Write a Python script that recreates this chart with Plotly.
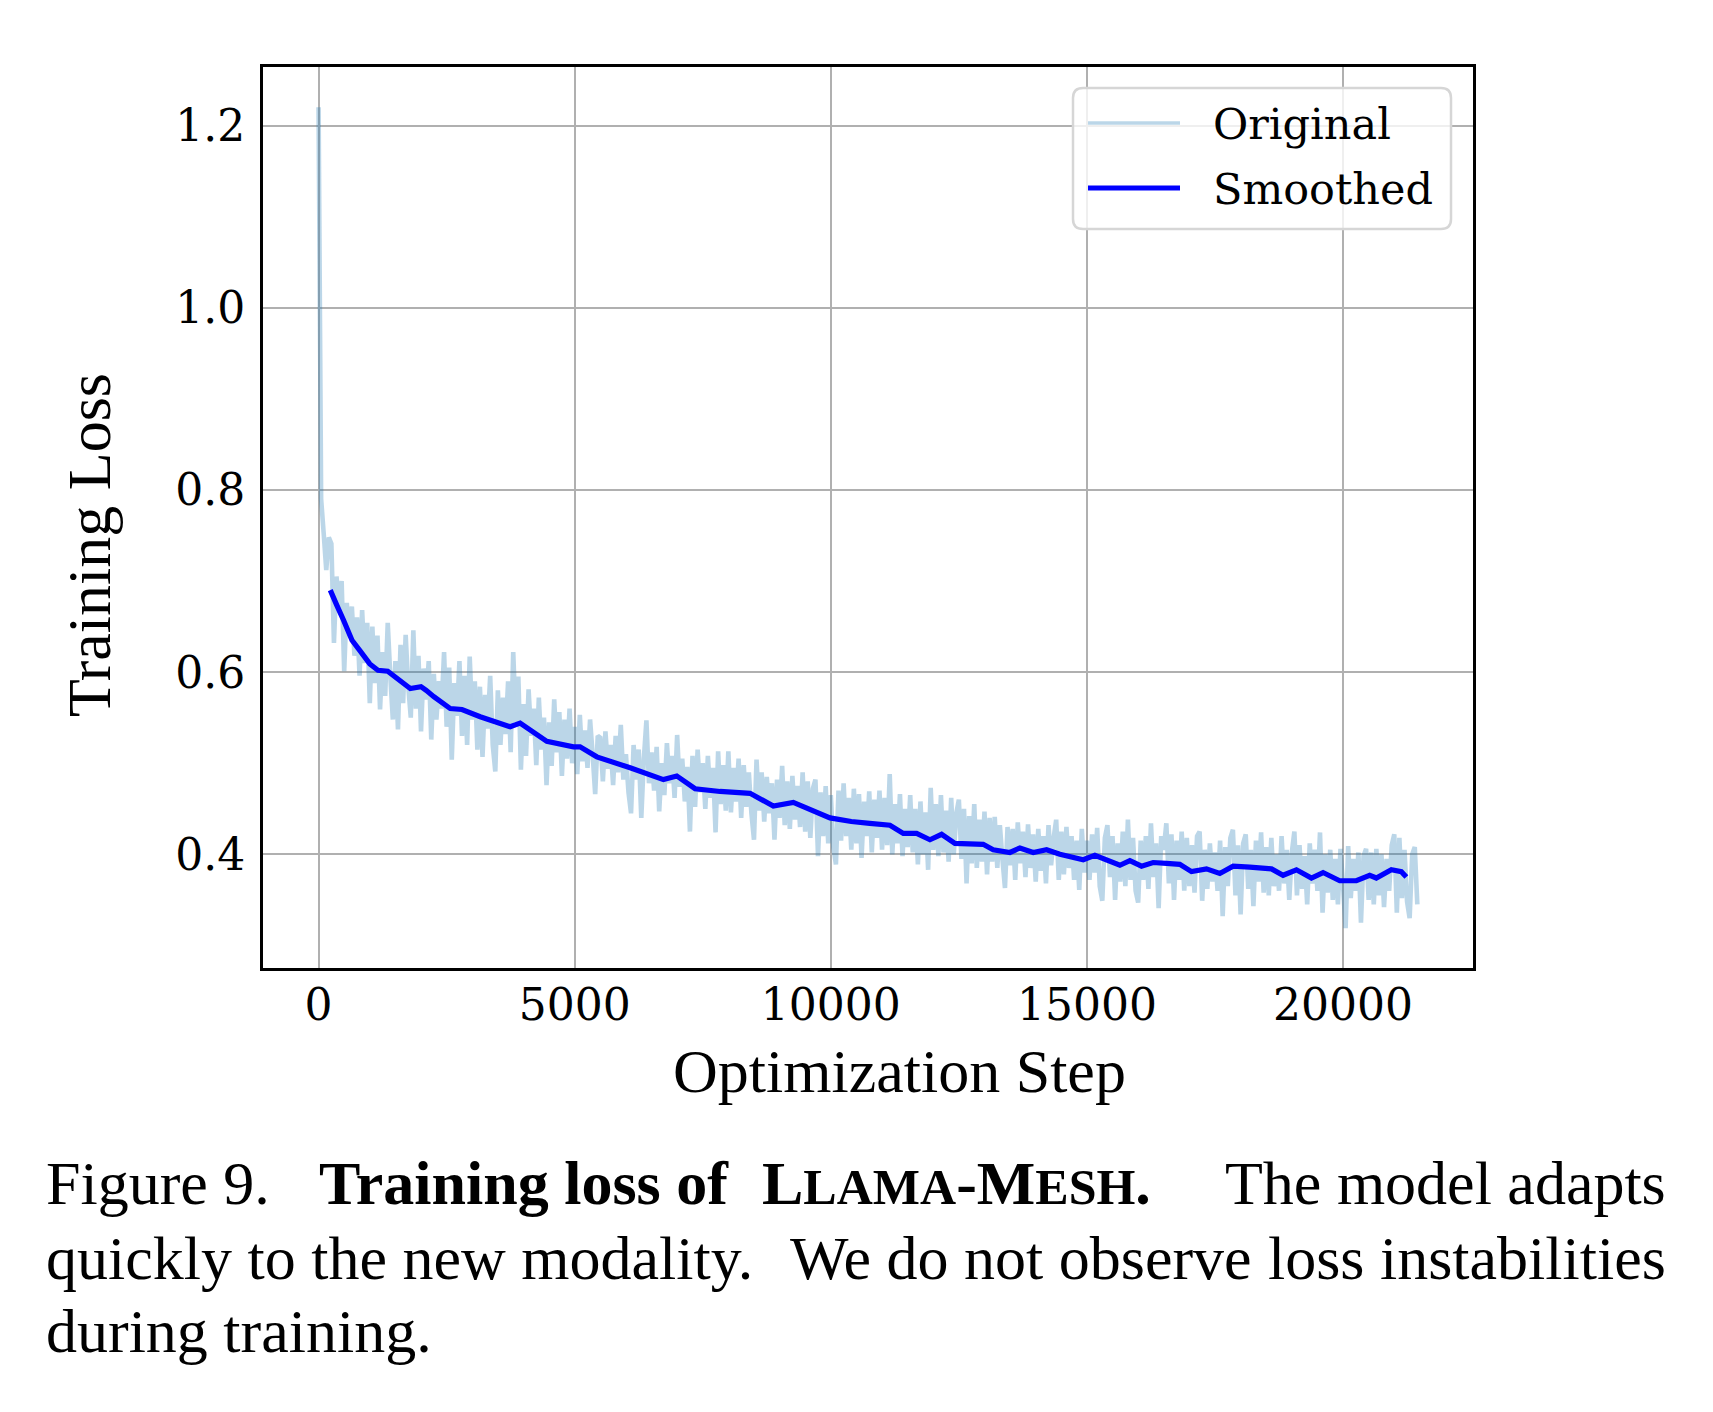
import plotly.graph_objects as go

# perda original registrada a cada 50 passos (0 ... 21450)
orig_steps = list(range(0, 21451, 50))
orig_loss = [
    1.220, 0.790, 0.752, 0.712, 0.748, 0.741, 0.632, 0.705, 0.668, 0.700,
    0.601, 0.676, 0.640, 0.672, 0.618, 0.660, 0.596, 0.668, 0.610, 0.654,
    0.566, 0.650, 0.588, 0.640, 0.559, 0.622, 0.574, 0.654, 0.596, 0.548,
    0.612, 0.537, 0.630, 0.566, 0.641, 0.585, 0.550, 0.646, 0.560, 0.618,
    0.535, 0.604, 0.570, 0.612, 0.526, 0.598, 0.548, 0.590, 0.560, 0.622,
    0.540, 0.605, 0.504, 0.588, 0.552, 0.612, 0.530, 0.596, 0.520, 0.617,
    0.548, 0.590, 0.515, 0.584, 0.507, 0.575, 0.538, 0.596, 0.520, 0.491,
    0.580, 0.520, 0.572, 0.532, 0.590, 0.512, 0.622, 0.545, 0.595, 0.493,
    0.565, 0.508, 0.581, 0.530, 0.560, 0.498, 0.572, 0.515, 0.550, 0.476,
    0.545, 0.497, 0.570, 0.512, 0.556, 0.486, 0.548, 0.505, 0.560, 0.500,
    0.540, 0.488, 0.553, 0.502, 0.536, 0.495, 0.548, 0.510, 0.466, 0.530,
    0.528, 0.480, 0.535, 0.494, 0.520, 0.476, 0.530, 0.490, 0.542, 0.482,
    0.510, 0.468, 0.445, 0.520, 0.482, 0.515, 0.440, 0.505, 0.547, 0.478,
    0.512, 0.470, 0.518, 0.447, 0.500, 0.465, 0.522, 0.478, 0.508, 0.462,
    0.531, 0.474, 0.505, 0.458, 0.496, 0.425, 0.508, 0.452, 0.515, 0.468,
    0.500, 0.450, 0.508, 0.462, 0.495, 0.424, 0.513, 0.455, 0.498, 0.448,
    0.513, 0.446, 0.495, 0.458, 0.505, 0.440, 0.498, 0.452, 0.490, 0.445,
    0.416, 0.504, 0.448, 0.490, 0.436, 0.485, 0.445, 0.478, 0.416, 0.482,
    0.440, 0.497, 0.432, 0.480, 0.428, 0.486, 0.438, 0.475, 0.430, 0.490,
    0.425, 0.480, 0.418, 0.472, 0.482, 0.398, 0.468, 0.420, 0.475, 0.412,
    0.465, 0.408, 0.389, 0.470, 0.415, 0.478, 0.420, 0.462, 0.405, 0.472,
    0.412, 0.466, 0.396, 0.458, 0.420, 0.469, 0.402, 0.460, 0.418, 0.470,
    0.405, 0.462, 0.410, 0.488, 0.400, 0.455, 0.412, 0.466, 0.398, 0.450,
    0.408, 0.465, 0.402, 0.450, 0.389, 0.458, 0.400, 0.446, 0.383, 0.473,
    0.405, 0.455, 0.398, 0.465, 0.402, 0.448, 0.392, 0.462, 0.400, 0.445,
    0.460, 0.395, 0.450, 0.368, 0.442, 0.390, 0.455, 0.385, 0.438, 0.392,
    0.447, 0.378, 0.440, 0.392, 0.441, 0.385, 0.432, 0.395, 0.363, 0.430,
    0.388, 0.428, 0.372, 0.435, 0.390, 0.425, 0.375, 0.433, 0.385, 0.422,
    0.370, 0.428, 0.382, 0.420, 0.368, 0.432, 0.388, 0.418, 0.438, 0.372,
    0.425, 0.378, 0.430, 0.385, 0.420, 0.372, 0.415, 0.361, 0.428, 0.380,
    0.415, 0.372, 0.422, 0.380, 0.429, 0.365, 0.349, 0.418, 0.432, 0.375,
    0.420, 0.350, 0.412, 0.370, 0.425, 0.365, 0.438, 0.372, 0.418, 0.360,
    0.347, 0.415, 0.372, 0.420, 0.362, 0.434, 0.375, 0.412, 0.341, 0.420,
    0.405, 0.434, 0.368, 0.422, 0.350, 0.415, 0.372, 0.425, 0.360, 0.418,
    0.365, 0.410, 0.358, 0.420, 0.425, 0.349, 0.405, 0.362, 0.412, 0.370,
    0.402, 0.360, 0.415, 0.332, 0.408, 0.365, 0.418, 0.427, 0.355, 0.410,
    0.334, 0.412, 0.422, 0.362, 0.405, 0.343, 0.415, 0.370, 0.424, 0.358,
    0.408, 0.355, 0.418, 0.365, 0.400, 0.360, 0.420, 0.368, 0.405, 0.350,
    0.402, 0.425, 0.355, 0.410, 0.362, 0.398, 0.345, 0.412, 0.368, 0.405,
    0.360, 0.424, 0.336, 0.400, 0.358, 0.405, 0.350, 0.395, 0.345, 0.406,
    0.365, 0.319, 0.409, 0.352, 0.395, 0.360, 0.402, 0.325, 0.398, 0.406,
    0.350, 0.402, 0.345, 0.406, 0.355, 0.400, 0.342, 0.395, 0.360, 0.410,
    0.422, 0.336, 0.418, 0.352, 0.405, 0.348, 0.330, 0.400, 0.408, 0.345,
]

# curva suavizada
smooth_steps = [228, 359, 488, 652, 814, 1000, 1159, 1350, 1790, 2000, 2100,
                2250, 2570, 2800, 3155, 3740, 3935, 4456, 4976, 5105, 5432,
                6082, 6732, 6993, 7350, 7838, 8423, 8878, 9268, 9984, 10400,
                10760, 11155, 11415, 11675, 11935, 12163, 12423, 12975, 13170,
                13496, 13692, 13952, 14212, 14472, 14927, 15155, 15643, 15838,
                16066, 16293, 16553, 16813, 17041, 17334, 17594, 17854, 18180,
                18603, 18829, 19090, 19383, 19610, 19935, 20260, 20520, 20650,
                20943, 21138, 21236]
smooth_loss = [0.690, 0.673, 0.657, 0.635, 0.623, 0.609, 0.602, 0.601, 0.582,
               0.584, 0.580, 0.573, 0.560, 0.559, 0.551, 0.540, 0.544, 0.524,
               0.518, 0.518, 0.507, 0.495, 0.482, 0.486, 0.472, 0.469, 0.467,
               0.453, 0.457, 0.440, 0.436, 0.434, 0.432, 0.423, 0.423, 0.416,
               0.422, 0.412, 0.411, 0.405, 0.402, 0.407, 0.402, 0.405, 0.400,
               0.394, 0.399, 0.388, 0.393, 0.387, 0.391, 0.390, 0.389, 0.381,
               0.384, 0.379, 0.387, 0.386, 0.384, 0.377, 0.383, 0.374, 0.380,
               0.371, 0.371, 0.377, 0.374, 0.383, 0.381, 0.375]

x_ticks = [0, 5000, 10000, 15000, 20000]
y_ticks = [0.4, 0.6, 0.8, 1.0, 1.2]
legend_names = ['Original', 'Smoothed']

cor_original = 'rgba(31,119,180,0.3)'
cor_suave = 'rgb(0,0,255)'
serif_mpl = 'DejaVu Serif'
serif_tex = 'Liberation Serif, Times New Roman, serif'

# a página tem 8px de margem no body: a figura fica 8px menor
W, H = 1705, 1404
L, R, T, B = 263, 1473, 67, 968   # área do gráfico na imagem de referência
OFF = 8


def px(x):
    return (x - L) / (R - L)


def py(y):
    return (B - y) / (B - T)


fig = go.Figure()

fig.add_trace(go.Scatter(
    x=orig_steps, y=orig_loss,
    mode='lines',
    line=dict(color=cor_original, width=4.6, simplify=False),
    name=legend_names[0],
    showlegend=False
))

fig.add_trace(go.Scatter(
    x=smooth_steps, y=smooth_loss,
    mode='lines',
    line=dict(color=cor_suave, width=5.2, simplify=False),
    name=legend_names[1],
    showlegend=False
))

# legenda desenhada a mão (caixa arredondada estilo matplotlib)
lx0, lx1, ly0, ly1, r = 1073, 1451, 88, 229, 10
rx, ry = r / (R - L), r / (B - T)
a, b, c, d = px(lx0), px(lx1), py(ly1), py(ly0)
caixa = (f'M {a + rx},{c} L {b - rx},{c} Q {b},{c} {b},{c + ry} '
         f'L {b},{d - ry} Q {b},{d} {b - rx},{d} L {a + rx},{d} '
         f'Q {a},{d} {a},{d - ry} L {a},{c + ry} Q {a},{c} {a + rx},{c} Z')

shapes = [dict(type='path', path=caixa, xref='paper', yref='paper',
               fillcolor='rgba(255,255,255,0.8)',
               line=dict(color='#d6d6d6', width=2.5), layer='above')]
annotations = []
for nome, cor, w, yy in [(legend_names[0], cor_original, 3.6, 123),
                         (legend_names[1], cor_suave, 5.2, 188)]:
    shapes.append(dict(type='line', xref='paper', yref='paper',
                       x0=px(1088), x1=px(1180), y0=py(yy), y1=py(yy),
                       line=dict(color=cor, width=w), layer='above'))
    annotations.append(dict(text=nome, xref='paper', yref='paper',
                            x=px(1211), y=py(yy + 1), xanchor='left', yanchor='middle',
                            showarrow=False,
                            font=dict(family=serif_mpl, size=43, color='black')))

# títulos dos eixos
annotations.append(dict(text='Optimization Step', xref='paper', yref='paper',
                        x=px(899), y=py(1071), xanchor='center', yanchor='middle',
                        showarrow=False,
                        font=dict(family=serif_tex, size=62, color='black')))
annotations.append(dict(text='Training Loss', xref='paper', yref='paper',
                        x=px(89), y=py(545), xanchor='center', yanchor='middle',
                        textangle=-90, showarrow=False,
                        font=dict(family=serif_tex, size=62, color='black')))

# legenda da figura (texto do artigo)
sc = '<span style="font-size:50px">'
cap_font = dict(family=serif_tex, size=62, color='black')
linhas = [
    (44, 1183, 'left', 'Figure 9.'),
    (317, 1183, 'left', '<b>Training loss of</b>'),
    (760, 1183, 'left', f'<b>L{sc}LAMA</span>-M{sc}ESH</span>.</b>'),
    (1668, 1183, 'right', 'The model adapts'),
    (44, 1258, 'left', 'quickly to the new modality.'),
    (788, 1258, 'left', 'We do not observe'),
    (1668, 1258, 'right', 'loss instabilities'),
    (44, 1331, 'left', 'during training.'),
]
for xx, yy, anc, txt in linhas:
    annotations.append(dict(text=txt, xref='paper', yref='paper',
                            x=px(xx), y=py(yy), xanchor=anc, yanchor='middle',
                            showarrow=False, font=cap_font))

fig.update_layout(
    width=W, height=H,
    margin=dict(l=L - OFF, r=W - (R - OFF), t=T - OFF, b=H - (B - OFF), pad=0),
    paper_bgcolor='white',
    plot_bgcolor='white',
    showlegend=False,
    shapes=shapes,
    annotations=annotations,
    xaxis=dict(
        range=[-1085, 22537],
        tickvals=x_ticks,
        ticktext=[str(v) for v in x_ticks],
        ticks='', ticklabelstandoff=-4,
        tickfont=dict(family=serif_mpl, size=44, color='black'),
        showgrid=True, gridcolor='#b0b0b0', gridwidth=2.2,
        zeroline=False,
        showline=True, linecolor='black', linewidth=3, mirror=True,
    ),
    yaxis=dict(
        range=[0.2752, 1.2643],
        tickvals=y_ticks,
        ticktext=[f'{v:.1f}' for v in y_ticks],
        ticks='outside', ticklen=6, tickcolor='rgba(0,0,0,0)',
        tickfont=dict(family=serif_mpl, size=44, color='black'),
        showgrid=True, gridcolor='#b0b0b0', gridwidth=2.2,
        zeroline=False,
        showline=True, linecolor='black', linewidth=3, mirror=True,
    ),
)

fig.write_html("out.html")
